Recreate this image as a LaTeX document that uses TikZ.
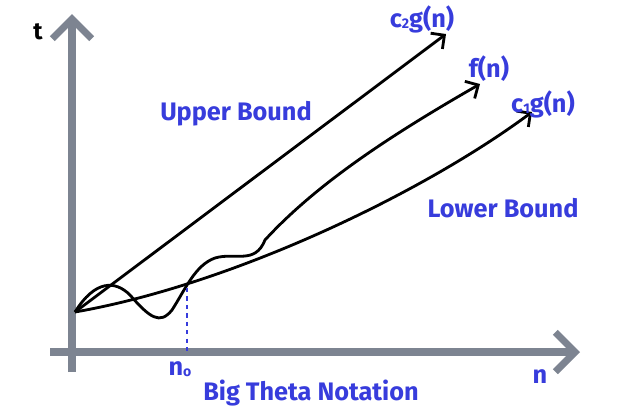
\documentclass[tikz,border=0pt]{standalone}
\usepackage{fontspec}
\setmainfont{Fira Sans}
\usetikzlibrary{arrows.meta}
\definecolor{axisgray}{RGB}{125,132,145}
\definecolor{lblue}{RGB}{55,60,220}
\tikzset{
  ax/.style={axisgray,line width=5pt,-{Straight Barb[length=14pt,width=28pt,line width=5pt]}},
  crv/.style={black,line width=2pt,-{Straight Barb[length=7pt,width=14pt,line width=2pt]}},
  lbl/.style={lblue,font=\bfseries\fontsize{18}{20}\selectfont},
}
\newcommand{\smsub}[1]{\raisebox{-0.1ex}{\fontsize{10}{10}\selectfont #1}}
\begin{document}
\begin{tikzpicture}[x=0.025cm,y=-0.025cm]
\useasboundingbox (0,0) rectangle (640,410);
\coordinate (o) at (75,312);
\coordinate (tt) at (72,14);
\coordinate (tb) at (72,372);
\coordinate (nl) at (50,352);
\coordinate (nr) at (580,352);
\draw[ax] (tb) -- (tt);
\draw[ax] (nl) -- (nr);
\node[font=\bfseries\fontsize{17}{18}\selectfont] (t) at (38,32) {t};
\node[lbl] (n) at (540,377) {n};
\coordinate (c2e) at (446,34);
\coordinate (fe) at (480,84);
\coordinate (c1e) at (532,112);
\draw[crv] (o) -- (c2e);
\draw[crv] (o) .. controls (95,280) and (115,280) .. (130,295)
  .. controls (150,318) and (160,325) .. (172,310)
  .. controls (185,290) and (195,265) .. (215,258)
  .. controls (235,252) and (255,265) .. (265,240)
  .. controls (320,180) and (400,130) .. (fe);
\draw[crv] (o) .. controls (230,285) and (420,195) .. (c1e);
\coordinate (x0) at (187,288);
\coordinate (x0b) at (187,352);
\draw[lblue,dashed,line width=1pt] (x0) -- (x0b);
\node[lbl] (n0) at (180,369) {n\smsub{o}};
\node[lbl] (c2) at (422,19) {c\smsub{2}g(n)};
\node[lbl] (f) at (489,69) {f(n)};
\node[lbl] (c1) at (543,104) {c\smsub{1}g(n)};
\node[lbl] (ub) at (236,114) {Upper Bound};
\node[lbl] (lb) at (503,208) {Lower Bound};
\node[lbl] (bt) at (311,393) {Big Theta Notation};
\end{tikzpicture}
\end{document}
